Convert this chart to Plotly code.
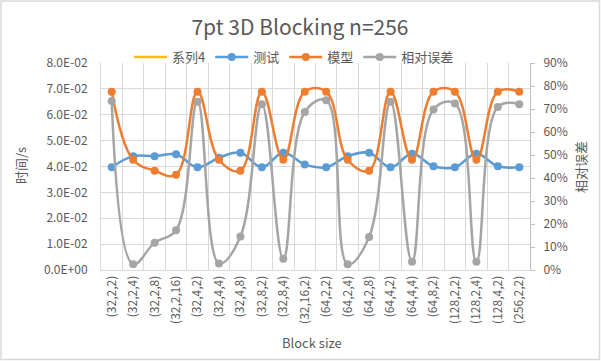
import plotly.graph_objects as go

categories = ["(32,2,2)", "(32,2,4)", "(32,2,8)", "(32,2,16)", "(32,4,2)", "(32,4,4)",
              "(32,4,8)", "(32,8,2)", "(32,8,4)", "(32,16,2)", "(64,2,2)", "(64,2,4)",
              "(64,2,8)", "(64,4,2)", "(64,4,4)", "(64,8,2)", "(128,2,2)", "(128,2,4)",
              "(128,4,2)", "(256,2,2)"]

series4 = [None] * len(categories)
test = [0.0397, 0.0440, 0.0440, 0.0447, 0.0397, 0.0434, 0.0453, 0.0397, 0.0453, 0.0408,
        0.0397, 0.0440, 0.0453, 0.0397, 0.0449, 0.0401, 0.0397, 0.0449, 0.0401, 0.0397]
model = [0.0689, 0.0426, 0.0384, 0.0368, 0.0689, 0.0426, 0.0384, 0.0689, 0.0426, 0.0689,
         0.0689, 0.0426, 0.0384, 0.0689, 0.0426, 0.0689, 0.0689, 0.0426, 0.0689, 0.0689]
rel_err = [0.735, 0.025, 0.119, 0.173, 0.731, 0.028, 0.146, 0.721, 0.049, 0.687,
           0.738, 0.025, 0.144, 0.731, 0.036, 0.698, 0.724, 0.036, 0.709, 0.721]

left_tickvals = [0, 0.01, 0.02, 0.03, 0.04, 0.05, 0.06, 0.07, 0.08]
left_ticktext = ["0.0E+00", "1.0E-02", "2.0E-02", "3.0E-02", "4.0E-02",
                 "5.0E-02", "6.0E-02", "7.0E-02", "8.0E-02"]

FONT = "Noto Sans CJK SC"
TXT = "#595959"
GRID = "#d9d9d9"

fig = go.Figure()
fig.add_trace(go.Scatter(x=categories, y=series4, name="系列4", mode="lines",
                         line=dict(color="#FFC000", width=2.5)))
fig.add_trace(go.Scatter(x=categories, y=test, name="测试", mode="lines+markers",
                         line=dict(color="#5B9BD5", width=2.5, shape="spline", smoothing=1.1),
                         marker=dict(size=8, color="#5B9BD5")))
fig.add_trace(go.Scatter(x=categories, y=model, name="模型", mode="lines+markers",
                         line=dict(color="#ED7D31", width=2.5, shape="spline", smoothing=1.1),
                         marker=dict(size=8, color="#ED7D31")))
fig.add_trace(go.Scatter(x=categories, y=rel_err, name="相对误差", mode="lines+markers",
                         yaxis="y2",
                         line=dict(color="#A5A5A5", width=2.5, shape="spline", smoothing=1.1),
                         marker=dict(size=8, color="#A5A5A5")))

fig.update_layout(
    width=601, height=361,
    margin=dict(l=101, r=71, t=63, b=91, autoexpand=False),
    paper_bgcolor="white", plot_bgcolor="white",
    font=dict(family=FONT, color=TXT, size=12),
    title=dict(text="7pt 3D Blocking n=256", x=300 / 601, xanchor="center",
               y=1 - 28 / 361, yanchor="middle",
               font=dict(size=21, color=TXT, family=FONT)),
    showlegend=True,
    legend=dict(orientation="h", x=(294 - 101) / 429, xanchor="center", y=(270 - 57) / 207,
                yanchor="middle", font=dict(size=13, color=TXT), bgcolor="rgba(0,0,0,0)",
                itemwidth=33),
    xaxis=dict(type="category", categoryorder="array", categoryarray=categories,
               tickson="boundaries", showgrid=True, gridcolor=GRID, gridwidth=1,
               showline=True, linecolor=GRID, linewidth=1, ticks="",
               tickangle=-90, tickfont=dict(size=12, color=TXT), automargin=False,
               range=[-0.5, len(categories) - 0.5]),
    yaxis=dict(range=[0, 0.08], tickvals=left_tickvals, ticktext=left_ticktext,
               showgrid=True, gridcolor=GRID, gridwidth=1, zeroline=False,
               showline=True, linecolor=GRID, linewidth=1, ticks="", automargin=False,
               ticklabelstandoff=10, tickfont=dict(size=12, color=TXT)),
    yaxis2=dict(range=[0, 0.9], dtick=0.1, tickformat=".0%", overlaying="y", side="right",
                showgrid=False, zeroline=False, showline=True, linecolor="#bfbfbf",
                linewidth=1, ticks="outside", ticklen=4, tickcolor="#bfbfbf",
                automargin=False, ticklabelstandoff=6,
                tickfont=dict(size=12, color=TXT)),
)

fig.add_annotation(text="时间/s", xref="paper", yref="paper",
                   x=(20 - 101) / 429, y=(270 - 166) / 207, textangle=-90,
                   showarrow=False, font=dict(size=13, color=TXT), xanchor="center",
                   yanchor="middle")
fig.add_annotation(text="相对误差", xref="paper", yref="paper",
                   x=(580 - 101) / 429, y=(270 - 167) / 207, textangle=-90,
                   showarrow=False, font=dict(size=13, color=TXT), xanchor="center",
                   yanchor="middle")
fig.add_annotation(text="Block size", xref="paper", yref="paper",
                   x=(312 - 101) / 429, y=(270 - 342) / 207,
                   showarrow=False, font=dict(size=13, color=TXT), xanchor="center",
                   yanchor="middle")
fig.add_shape(type="rect", xref="paper", yref="paper",
              x0=(1 - 101) / 429, x1=(599.5 - 101) / 429,
              y0=(270 - 359.5) / 207, y1=(270 - 1) / 207,
              line=dict(color=GRID, width=1.5), fillcolor="rgba(0,0,0,0)", layer="below")

fig.write_html("out.html", config={"displayModeBar": False},
               post_script="document.body.style.margin='0';document.body.style.overflow='hidden';")
